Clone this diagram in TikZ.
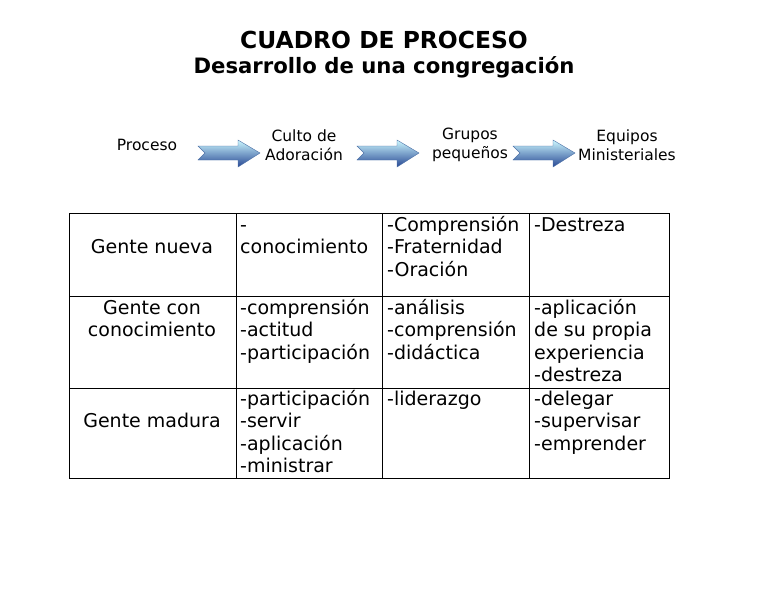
\documentclass[tikz,border=0pt]{standalone}
\usepackage{fontspec}
\setmainfont{DejaVu Sans}
\newcommand{\cl}[1]{\begin{tabular}[t]{@{}l@{}}#1\end{tabular}}
\newcommand{\cc}[1]{\begin{tabular}[t]{@{}c@{}}#1\end{tabular}}
\begin{document}
\begin{tikzpicture}[x=1pt,y=-1pt,
  cell/.style={anchor=base west,inner sep=0pt,font=\fontsize{19}{22.5}\selectfont},
  ccell/.style={anchor=base,inner sep=0pt,font=\fontsize{19}{22.5}\selectfont},
  plabel/.style={inner sep=0pt,font=\fontsize{15.5}{19}\selectfont,align=center},
  grid/.style={draw=black,line width=0.8pt}]
\useasboundingbox (0,0) rectangle (768,594);
\node[inner sep=0pt,font=\bfseries\fontsize{23.4}{26}\selectfont] (t1) at (384,40) {CUADRO DE PROCESO};
\node[inner sep=0pt,font=\bfseries\fontsize{21.2}{24}\selectfont] (t2) at (384,67) {Desarrollo de una congregación};
\node[plabel] (p0) at (147,145) {Proceso};
\node[plabel] (p1) at (304,145) {Culto de\\Adoración};
\node[plabel] (p2) at (470,145) {Grupos\\pequeños};
\node[plabel] (p3) at (627,145) {Equipos\\Ministeriales};
\foreach \x in {198,357,513}{
  \shade[top color=blue!15!cyan!20!white,bottom color=blue!70!cyan!50!black!85,draw=blue!60!cyan!50!black!70,line width=0.4pt]
   (\x,146) -- (\x+40,146) -- (\x+40,140) -- (\x+62,153) -- (\x+40,167) -- (\x+40,160) -- (\x,160) -- (\x+7,153) -- cycle;
}
\draw[grid] (69,213) rectangle (669,478);
\foreach \x in {236,382,529}{\draw[grid] (\x,213) -- (\x,478);}
\foreach \y in {296,388}{\draw[grid] (69,\y) -- (669,\y);}
\node[ccell] (a1) at (152,253) {Gente nueva};
\node[ccell] (a2) at (152,314) {\cc{Gente con\\conocimiento}};
\node[ccell] (a3) at (152,427) {Gente madura};
\node[cell] (b1) at (240,231) {\cl{-\\conocimiento}};
\node[cell] (c1) at (387,231) {\cl{-Comprensión\\-Fraternidad\\-Oración}};
\node[cell] (d1) at (534,231) {-Destreza};
\node[cell] (b2) at (240,314) {\cl{-comprensión\\-actitud\\-participación}};
\node[cell] (c2) at (387,314) {\cl{-análisis\\-comprensión\\-didáctica}};
\node[cell] (d2) at (534,314) {\cl{-aplicación\\de su propia\\experiencia\\-destreza}};
\node[cell] (b3) at (240,405) {\cl{-participación\\-servir\\-aplicación\\-ministrar}};
\node[cell] (c3) at (387,405) {-liderazgo};
\node[cell] (d3) at (534,405) {\cl{-delegar\\-supervisar\\-emprender}};
\end{tikzpicture}
\end{document}
